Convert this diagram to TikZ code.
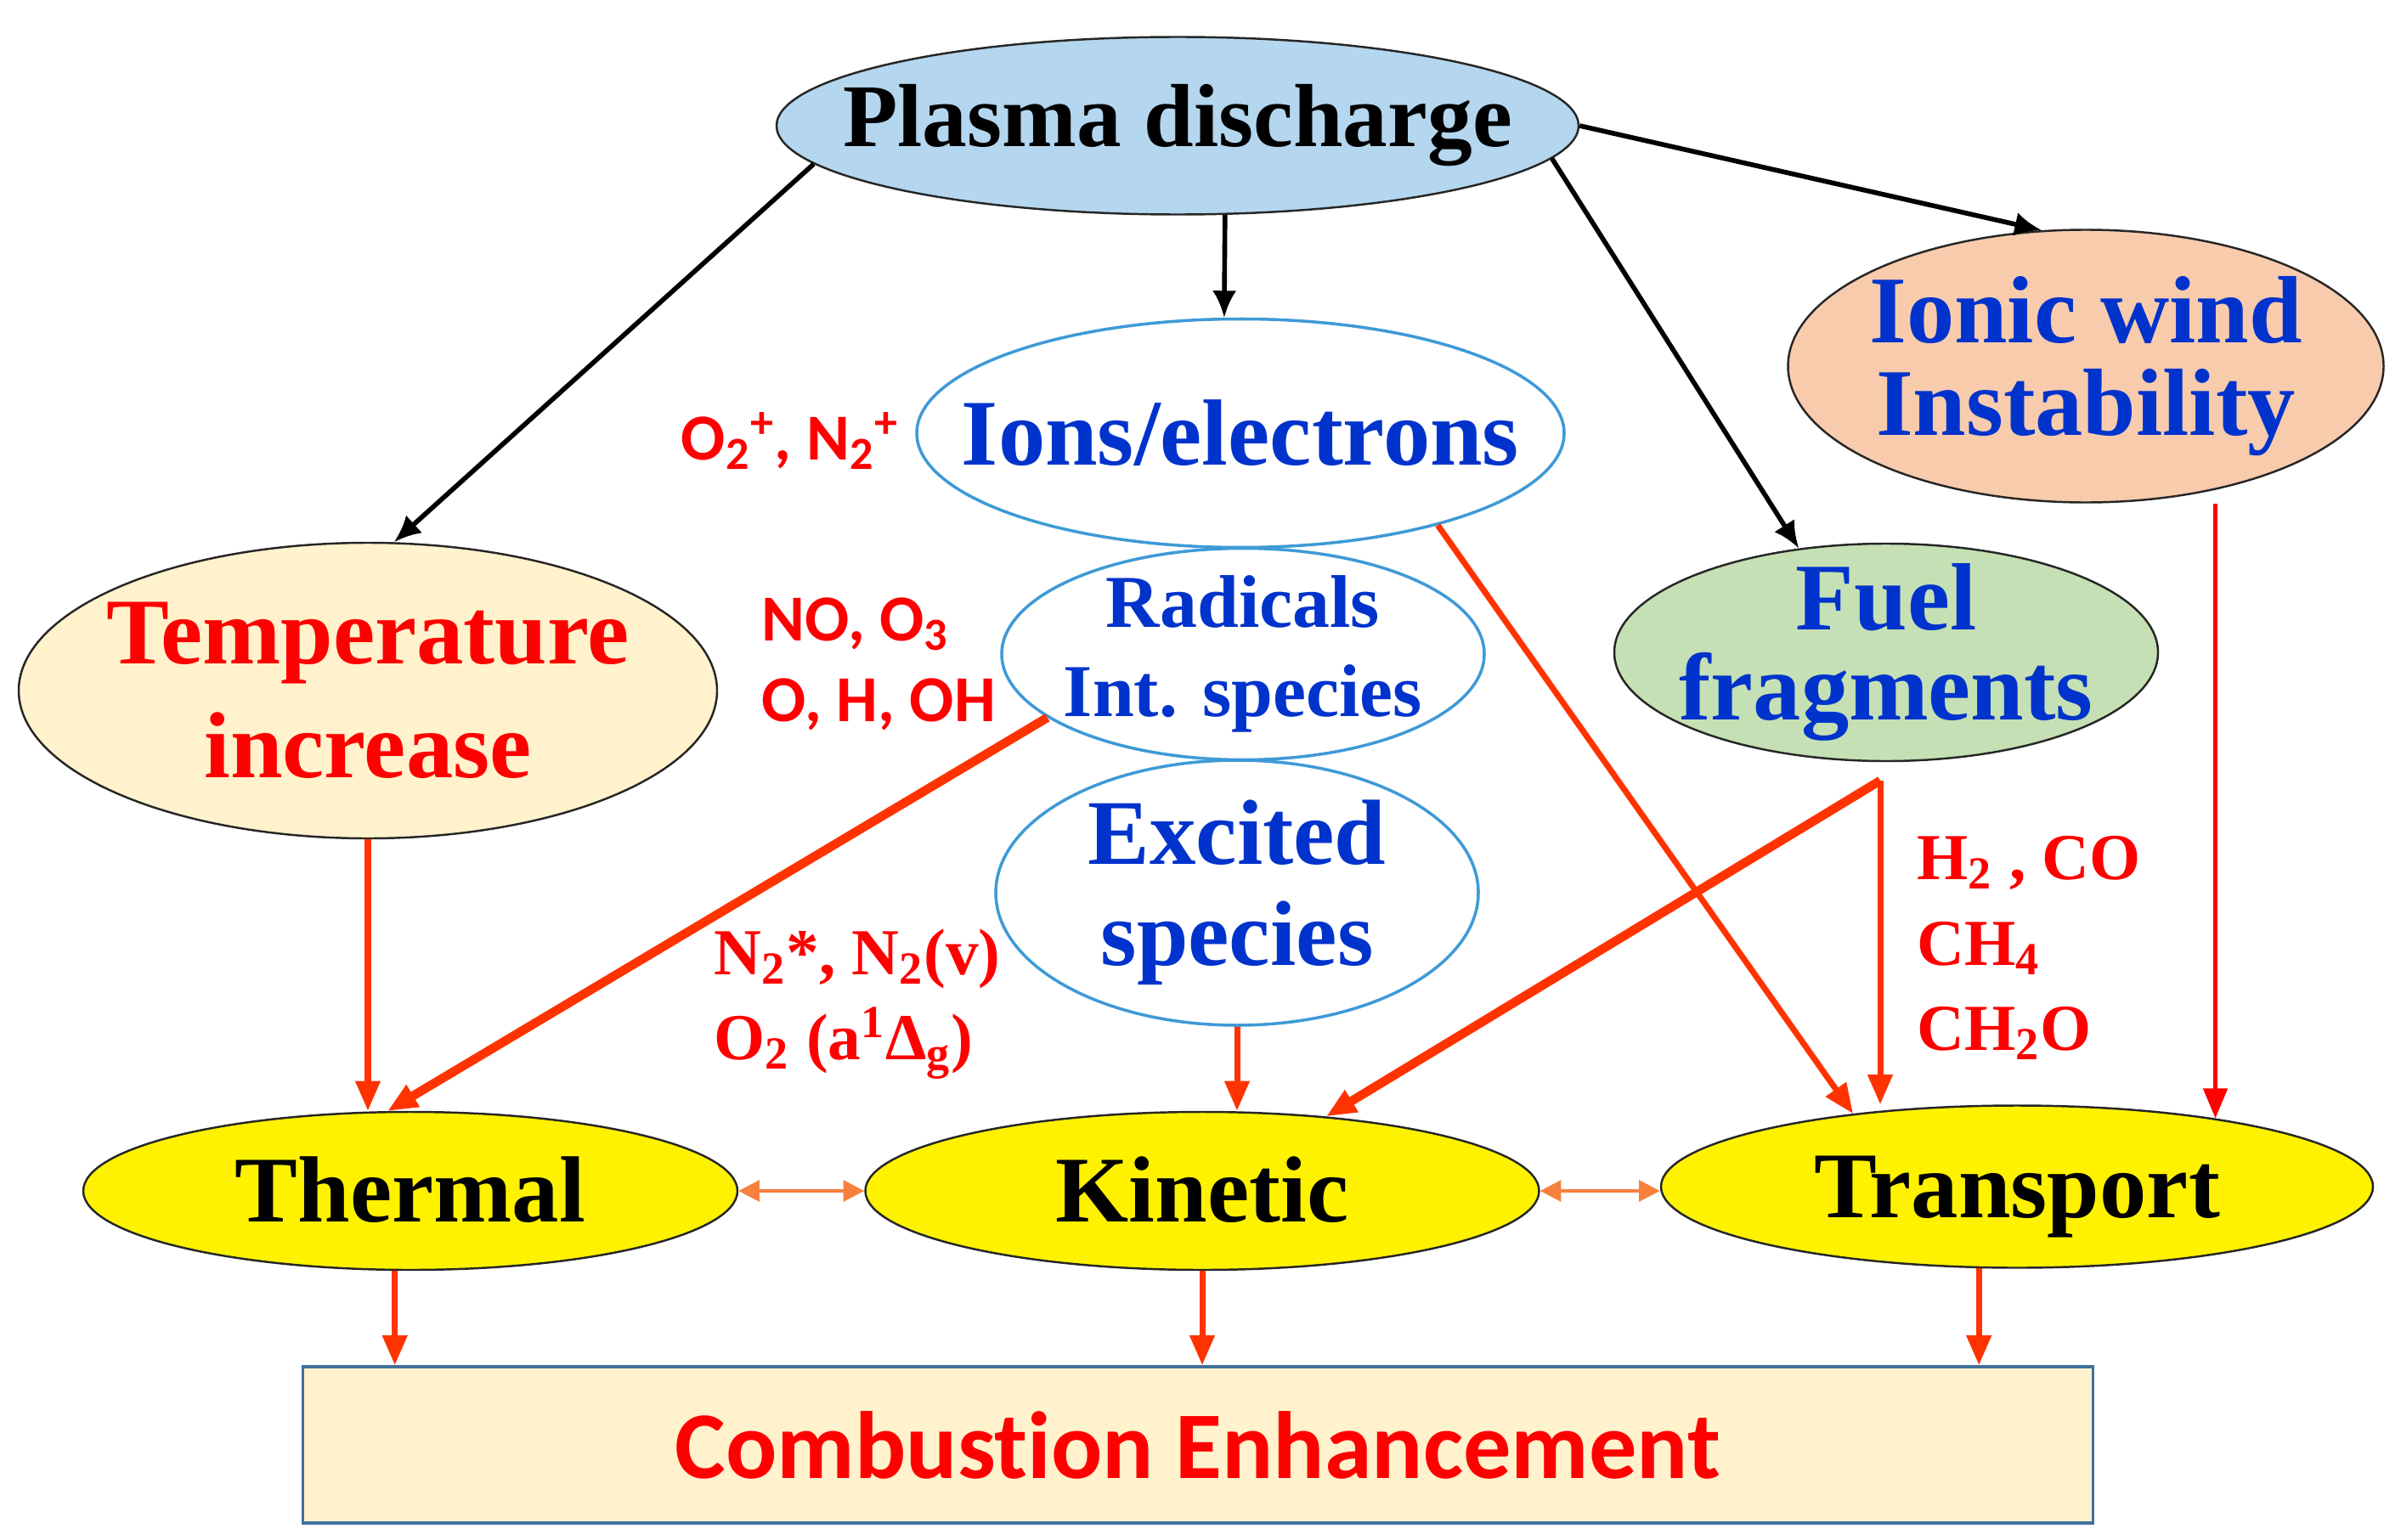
\documentclass[tikz,border=0pt]{standalone}
\usepackage{fontspec}
\setmainfont{Liberation Serif}
\newfontfamily\calibfont{Carlito}[Ligatures=NoCommon]
\usetikzlibrary{arrows.meta,positioning,shapes.geometric}
\definecolor{txtblue}{RGB}{0,51,204}
\definecolor{rimblue}{RGB}{62,154,214}
\definecolor{plasmafill}{RGB}{180,214,238}
\definecolor{creamfill}{RGB}{255,242,204}
\definecolor{fuelfill}{RGB}{197,224,180}
\definecolor{windfill}{RGB}{248,203,173}
\definecolor{arrred}{RGB}{255,51,0}
\definecolor{linkorange}{RGB}{247,128,60}
\definecolor{boxrim}{RGB}{65,113,156}

\begin{document}
\begin{tikzpicture}[
  bubble/.style={ellipse, draw=black!85, line width=0.7pt, inner sep=-3cm, align=center,
                 font=\bfseries\fontsize{31.5}{31}\selectfont},
  species/.style={bubble, draw=rimblue, line width=1pt, text=txtblue},
  effect/.style={bubble, fill=yellow, minimum height=1.86cm, text height=21pt, text depth=0pt},
  chem/.style={text=red, align=left, inner sep=0pt,
               font=\bfseries\fontsize{22}{28.5}\selectfont},
  sanschem/.style={chem, font=\calibfont\bfseries\fontsize{22}{27}\selectfont},
  blk/.style={-{Latex[length=9pt,width=8pt]}, line width=1.6pt},
  rarr/.style={-{Triangle[length=10pt,width=8pt]}, line width=2pt, draw=arrred},
  rbold/.style={rarr, line width=3pt},
  twoway/.style={{Triangle[length=7pt,width=7pt]}-{Triangle[length=7pt,width=7pt]},
                 line width=1.1pt, draw=linkorange}
]
\useasboundingbox (0,0) rectangle (28.26,-18.13);

% source
\node[bubble, fill=plasmafill, minimum width=9.44cm, minimum height=2.09cm,
      font=\bfseries\fontsize{30}{31}\selectfont] (plasma)
      at (13.86,-1.48) {Plasma discharge};

% species column
\node[species, minimum width=7.62cm, minimum height=2.69cm] (ions) at (14.60,-5.10)
      {Ions/electrons};
\node[species, minimum width=5.68cm, minimum height=2.49cm,
      font=\bfseries\fontsize{25}{30}\selectfont] (rad) at (14.63,-7.70) {Radicals\\Int. species};
\node[species, minimum width=5.68cm, minimum height=3.12cm,
      font=\bfseries\fontsize{31}{34}\selectfont] (exc) at (14.56,-10.51) {Excited\\species};

% side effects
\node[bubble, fill=creamfill, text=red, minimum width=8.22cm, minimum height=3.48cm,
      font=\bfseries\fontsize{31.5}{38}\selectfont] (temp) at (4.33,-8.13) {Temperature\\increase};
\node[bubble, fill=fuelfill, text=txtblue, minimum width=6.40cm, minimum height=2.56cm,
      font=\bfseries\fontsize{32}{30}\selectfont] (fuel) at (22.20,-7.68) {Fuel\\fragments};
\node[bubble, fill=windfill, text=txtblue, minimum width=7.01cm, minimum height=3.21cm,
      font=\bfseries\fontsize{32}{31}\selectfont] (wind) at (24.55,-4.31) {Ionic wind\\Instability};

% pathways
\node[effect, minimum width=7.70cm] (thermal) at (4.83,-14.02) {Thermal};
\node[effect, minimum width=7.93cm] (kinetic) at (14.15,-14.02) {Kinetic};
\node[effect, minimum width=8.38cm, minimum height=1.91cm] (transport) at (23.74,-13.97) {Transport};

\node[draw=boxrim, line width=1pt, fill=creamfill, minimum width=21.07cm, minimum height=1.84cm,
      text=red, font=\calibfont\bfseries\fontsize{32}{38}\selectfont] (comb)
      at (14.10,-17.01) {Combustion Enhancement};

% species labels
\node[sanschem] (ionspec) at (9.30,-5.19)
      {O\textsubscript{2}\textsuperscript{+}, N\textsubscript{2}\textsuperscript{+}};
\node[sanschem, anchor=west] (radspec) at (8.96,-7.82) {NO, O\textsubscript{3}\\O, H, OH};
\node[chem, anchor=west] (excspec) at (8.40,-11.82)
      {N\textsubscript{2}*, N\textsubscript{2}(v)\\O\textsubscript{2} (a\textsuperscript{1}Δ\textsubscript{g})};
\node[chem, anchor=west] (fuelspec) at (22.56,-11.16)
      {H\textsubscript{2} , CO\\CH\textsubscript{4}\\CH\textsubscript{2}O};

% discharge outputs
\draw[blk] (plasma.186) -- (temp.80);
\draw[blk] (plasma.298) -- (ions.98);
\draw[blk] (plasma.355) -- (fuel.130);
\draw[blk] (plasma.east) -- (wind.108);

% into the three pathways
\draw[rarr] (temp.south) -- (temp.south |- thermal.north);
\draw[rbold] (rad.198) -- (thermal.106);
\draw[rarr] (ions.335) -- (transport.156);
\draw[rarr] (exc.south) -- (exc.south |- kinetic.north);
\coordinate (fj) at (22.13,-9.19);
\draw[rbold] (fj) -- (kinetic.31);
\draw[rarr] (fj) -- (fj |- transport.north);
\draw[rarr, line width=1.3pt, draw=red] (transport.19 |- wind.south) -- (transport.19);

\draw[twoway] (thermal.east) -- (kinetic.west);
\draw[twoway] (kinetic.east) -- (kinetic.east -| transport.west);

% down to the result
\draw[rarr] (thermal.259) -- (thermal.259 |- comb.north);
\draw[rarr] (kinetic.south) -- (kinetic.south |- comb.north);
\draw[rarr] (transport.245) -- (transport.245 |- comb.north);
\end{tikzpicture}
\end{document}
